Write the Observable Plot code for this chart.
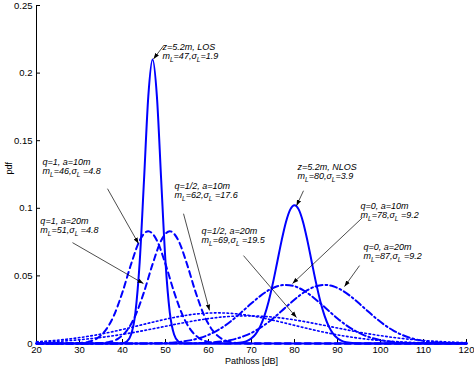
<!DOCTYPE html>
<html>
<head>
<meta charset="utf-8">
<script src="https://cdn.jsdelivr.net/npm/d3@7"></script>
<script src="https://cdn.jsdelivr.net/npm/@observablehq/plot@0.6"></script>
<style>
  html, body { margin: 0; padding: 0; background: #fff; }
  #chart svg { display: block; }
</style>
</head>
<body>
<div id="chart"></div>
<script>
// ---- data ----
const xTicks = [20, 30, 40, 50, 60, 70, 80, 90, 100, 110, 120];
const yTicks = [0, 0.05, 0.1, 0.15, 0.2, 0.25];
const yTickLabels = ["0", "0.05", "0.1", "0.15", "0.2", "0.25"];
const xLabel = "Pathloss [dB]";
const yLabel = "pdf";

// z=5.2m LOS (solid)
const pathlossLOS = [20, 38, 39, 40, 41, 42, 43, 44, 45, 46, 47, 48, 49, 50, 51, 52, 53, 54, 55, 56, 120];
const pdfLOS = [0, 0, 0.00003, 0.0002, 0.0014, 0.0066, 0.0229, 0.0604, 0.1207, 0.1828, 0.2100, 0.1828, 0.1207, 0.0604, 0.0229, 0.0066, 0.0014, 0.0002, 0.00003, 0, 0];

// z=5.2m NLOS (solid)
const pathlossNLOS = [20, 62, 64, 66, 68, 69, 70, 71, 72, 73, 74, 75, 76, 77, 78, 79, 80, 81, 82, 83, 84, 85, 86, 87, 88, 89, 90, 91, 92, 94, 96, 98, 120];
const pdfNLOS = [0, 0, 0.00002, 0.00016, 0.0009, 0.00191, 0.00382, 0.00714, 0.01248, 0.0204, 0.0313, 0.0450, 0.0605, 0.0761, 0.0897, 0.0990, 0.1023, 0.0990, 0.0897, 0.0761, 0.0605, 0.0450, 0.0313, 0.0204, 0.01248, 0.00714, 0.00382, 0.00191, 0.0009, 0.00016, 0.00002, 0, 0];

// q=1, a=10m (dashed)
const pathlossQ1a10 = [20, 24, 26, 28, 30, 32, 34, 36, 38, 40, 42, 44, 46, 48, 50, 52, 54, 56, 58, 60, 62, 64, 66, 68, 120];
const pdfQ1a10 = [0, 0, 0.00001, 0.00007, 0.00032, 0.00118, 0.00365, 0.00949, 0.0207, 0.0380, 0.0587, 0.0762, 0.0831, 0.0762, 0.0587, 0.0380, 0.0207, 0.00949, 0.00365, 0.00118, 0.00032, 0.00007, 0.00001, 0, 0];

// q=1, a=20m (dashed)
const pathlossQ1a20 = [20, 29, 31, 33, 35, 37, 39, 41, 43, 45, 47, 49, 51, 53, 55, 57, 59, 61, 63, 65, 67, 69, 71, 73, 120];
const pdfQ1a20 = [0, 0, 0.00001, 0.00007, 0.00032, 0.00118, 0.00365, 0.00949, 0.0207, 0.0380, 0.0587, 0.0762, 0.0831, 0.0762, 0.0587, 0.0380, 0.0207, 0.00949, 0.00365, 0.00118, 0.00032, 0.00007, 0.00001, 0, 0];

// q=1/2, a=10m (dotted)
const pathlossQhalfa10 = [20, 22, 27, 32, 37, 42, 47, 52, 57, 62, 67, 72, 77, 82, 87, 92, 97, 102, 107, 112, 117, 120];
const pdfQhalfa10 = [0.00131, 0.00171, 0.00314, 0.00530, 0.00827, 0.01188, 0.01576, 0.01929, 0.02177, 0.02267, 0.02177, 0.01929, 0.01576, 0.01188, 0.00827, 0.00530, 0.00314, 0.00171, 0.00086, 0.00040, 0.00017, 0.00010];

// q=1/2, a=20m (dotted)
const pathlossQhalfa20 = [20, 24, 29, 34, 39, 44, 49, 54, 59, 64, 69, 74, 79, 84, 89, 94, 99, 104, 109, 114, 119, 120];
const pdfQhalfa20 = [0.00087, 0.00143, 0.00250, 0.00409, 0.00626, 0.00899, 0.01209, 0.01522, 0.01794, 0.01980, 0.02046, 0.01980, 0.01794, 0.01522, 0.01209, 0.00899, 0.00626, 0.00409, 0.00250, 0.00143, 0.00076, 0.00067];

// q=0, a=10m (dash-dot)
const pathlossQ0a10 = [20, 40, 44, 48, 50, 52, 54, 56, 58, 60, 62, 64, 66, 68, 70, 72, 74, 76, 78, 80, 82, 84, 86, 88, 90, 92, 94, 96, 98, 100, 102, 104, 106, 108, 112, 116, 120];
const pdfQ0a10 = [0, 0.00001, 0.00005, 0.00021, 0.00042, 0.00080, 0.00144, 0.00249, 0.00408, 0.00640, 0.00956, 0.01362, 0.01852, 0.02402, 0.02971, 0.03505, 0.03945, 0.04235, 0.04336, 0.04235, 0.03945, 0.03505, 0.02971, 0.02402, 0.01852, 0.01362, 0.00956, 0.00640, 0.00408, 0.00249, 0.00144, 0.00080, 0.00042, 0.00021, 0.00005, 0.00001, 0];

// q=0, a=20m (dash-dot)
const pathlossQ0a20 = [20, 49, 53, 57, 59, 61, 63, 65, 67, 69, 71, 73, 75, 77, 79, 81, 83, 85, 87, 89, 91, 93, 95, 97, 99, 101, 103, 105, 107, 109, 111, 113, 115, 117, 120];
const pdfQ0a20 = [0, 0.00001, 0.00005, 0.00021, 0.00042, 0.00080, 0.00144, 0.00249, 0.00408, 0.00640, 0.00956, 0.01362, 0.01852, 0.02402, 0.02971, 0.03505, 0.03945, 0.04235, 0.04336, 0.04235, 0.03945, 0.03505, 0.02971, 0.02402, 0.01852, 0.01362, 0.00956, 0.00640, 0.00408, 0.00249, 0.00144, 0.00080, 0.00042, 0.00021, 0.00007];

// annotations
const labelTop = ["z=5.2m, LOS", "q=1, a=10m", "q=1, a=20m", "q=1/2, a=10m", "q=1/2, a=20m", "z=5.2m, NLOS", "q=0, a=10m", "q=0, a=20m"];
const labelBottom = ["m_L=47,σ_L=1.9", "m_L=46,σ_L =4.8", "m_L=51,σ_L =4.8", "m_L=62,σ_L =17.6", "m_L=69,σ_L =19.5", "m_L=80,σ_L=3.9", "m_L=78,σ_L =9.2", "m_L=87,σ_L =9.2"];
const labelX = [49.3, 21.4, 20.9, 52.1, 58.4, 80.7, 95.35, 96.05];
const labelY = [0.2171, 0.1322, 0.0886, 0.1145, 0.0812, 0.1285, 0.0997, 0.0694];
const arrowX1 = [49.53, 36.51, 28.37, 54.19, 68.14, 82.09, 95.81, 95.12];
const arrowY1 = [0.2201, 0.1145, 0.0746, 0.0960, 0.0650, 0.1130, 0.0931, 0.0576];
const arrowX2 = [47.21, 43.72, 44.88, 60.23, 80.47, 80.47, 79.53, 91.63];
const arrowY2 = [0.2105, 0.0739, 0.0443, 0.0244, 0.0192, 0.1019, 0.0443, 0.0421];

// ---- build tables ----
const toRows = (xs, ys) => xs.map((x, i) => ({x, y: ys[i]}));
const labels = labelTop.map((t, i) => ({top: t, bottom: labelBottom[i], x: labelX[i], y: labelY[i]}));
const arrows = arrowX1.map((x1, i) => ({x1, y1: arrowY1[i], x2: arrowX2[i], y2: arrowY2[i]}));

const blue = "#0000ff";
const lineOpts = (extra) => Object.assign({x: "x", y: "y", stroke: blue, curve: "monotone-x", strokeWidth: 2}, extra);

// filled arrowhead marker
function filledArrow(color) {
  const m = d3.create("svg:marker")
    .attr("viewBox", "-6 -3 6 6")
    .attr("markerWidth", 6)
    .attr("markerHeight", 6)
    .attr("markerUnits", "userSpaceOnUse")
    .attr("refX", 0)
    .attr("refY", 0)
    .attr("orient", "auto");
  m.append("path").attr("d", "M-6,-2.2L0,0L-6,2.2Z").attr("fill", color).attr("stroke", "none");
  return m.node();
}

const chart = Plot.plot({
  width: 474,
  height: 368,
  marginLeft: 36,
  marginRight: 8,
  marginTop: 5,
  marginBottom: 25,
  style: {fontFamily: "'Liberation Sans', Arial, sans-serif", fontSize: "9px", background: "#fff", color: "#000"},
  x: {domain: [20, 120]},
  y: {domain: [0, 0.25]},
  marks: [
    Plot.ruleX([20], {stroke: "#000", strokeWidth: 1}),
    Plot.ruleY([0], {stroke: "#000", strokeWidth: 1}),
    Plot.axisX({ticks: xTicks, tickSize: -4, tickPadding: 7, tickFormat: d => String(d), label: null, fontSize: 9.5}),
    Plot.axisY({ticks: yTicks, tickSize: -4, tickPadding: 8, tickFormat: d => yTickLabels[yTicks.indexOf(d)], label: null, fontSize: 9.5}),
    Plot.text([xLabel], {frameAnchor: "bottom", dy: 20, fontSize: 9}),
    Plot.text([yLabel], {frameAnchor: "left", dx: -27, rotate: -90, fontSize: 9}),
    Plot.line(toRows(pathlossQhalfa10, pdfQhalfa10), lineOpts({strokeWidth: 1.6, strokeDasharray: "1.6,2.6"})),
    Plot.line(toRows(pathlossQhalfa20, pdfQhalfa20), lineOpts({strokeWidth: 1.6, strokeDasharray: "1.6,2.6"})),
    Plot.line(toRows(pathlossQ0a10, pdfQ0a10), lineOpts({strokeDasharray: "7,3,1.8,3"})),
    Plot.line(toRows(pathlossQ0a20, pdfQ0a20), lineOpts({strokeDasharray: "7,3,1.8,3"})),
    Plot.line(toRows(pathlossQ1a10, pdfQ1a10), lineOpts({strokeDasharray: "6,4"})),
    Plot.line(toRows(pathlossQ1a20, pdfQ1a20), lineOpts({strokeDasharray: "6,4"})),
    Plot.line(toRows(pathlossNLOS, pdfNLOS), lineOpts({})),
    Plot.line(toRows(pathlossLOS, pdfLOS), lineOpts({})),
    Plot.link(arrows, {x1: "x1", y1: "y1", x2: "x2", y2: "y2", stroke: "#000", strokeWidth: 0.7, markerEnd: filledArrow}),
    Plot.text(labels, {x: "x", y: "y", text: "top", textAnchor: "start", lineAnchor: "bottom", fontSize: 9, fontStyle: "italic"}),
    Plot.text(labels, {x: "x", y: "y", text: "bottom", textAnchor: "start", lineAnchor: "bottom", dy: 9.5, fontSize: 9, fontStyle: "italic"})
  ]
});

// subscript "L" after m and σ
d3.select(chart).selectAll("text").each(function () {
  const t = d3.select(this);
  const s = t.text();
  if (!s.includes("_L") || this.querySelector("tspan")) return;
  t.text(null);
  const parts = s.split("_L");
  parts.forEach((p, i) => {
    if (i > 0) {
      t.append("tspan").attr("dy", 2.5).attr("font-size", 6.5).text("L");
      t.append("tspan").attr("dy", -2.5).text(p);
    } else {
      t.append("tspan").text(p);
    }
  });
});

document.getElementById("chart").appendChild(chart);
</script>
</body>
</html>
